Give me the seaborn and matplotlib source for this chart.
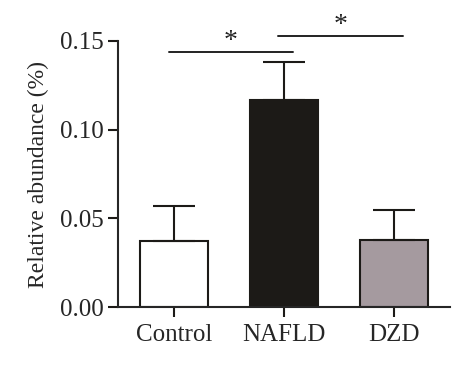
import matplotlib
matplotlib.use('agg')
import matplotlib.pyplot as plt
import seaborn as sns
import pandas as pd

groups = ['Control', 'NAFLD', 'DZD']
means = [0.037, 0.117, 0.038]
errs = [0.020, 0.021, 0.017]
colors = ['#ffffff', '#1c1a17', '#a59a9f']
yticks = [0.00, 0.05, 0.10, 0.15]

# significance brackets: (from group, to group, height)
sig = [(0, 1, 0.1438), (1, 2, 0.1528)]

sns.set_style('ticks')
plt.rcParams['font.family'] = ['Liberation Serif', 'DejaVu Serif']
plt.rcParams['axes.linewidth'] = 1.5

df = pd.DataFrame({'group': groups, 'value': means})

fig = plt.figure(figsize=(4.74, 3.66), dpi=100)
ax = fig.add_axes([0.249, 0.161, 0.700, 0.727])

sns.barplot(data=df, x='group', y='value', hue='group', palette=colors,
            width=0.62, edgecolor='#1c1a17', linewidth=1.5, saturation=1,
            legend=False, ax=ax, errorbar=None)

ax.errorbar(range(len(groups)), means, yerr=[[0] * len(errs), errs],
            fmt='none', ecolor='#1c1a17', elinewidth=1.5, capsize=15,
            capthick=1.5, zorder=1)

for a, b, h in sig:
    x0, x1 = a - 0.05, b + 0.08
    ax.plot([x0, x1], [h, h], color='#222222', lw=1.4, clip_on=False)
    ax.text((x0 + x1) / 2, h - 0.001, '*', ha='center', va='bottom',
            fontsize=20, color='#222222')

ax.set_xlim(-0.51, 2.51)
ax.set_ylim(0, 0.15)
ax.set_yticks(yticks)
ax.set_yticklabels(['%.2f' % t for t in yticks])
ax.set_xlabel('')
ax.set_ylabel('Relative abundance (%)', fontsize=17, labelpad=8)
ax.tick_params(axis='both', labelsize=18, width=1.5, length=7, color='#1c1a17')
ax.tick_params(axis='x', pad=5)
sns.despine(ax=ax)

plt.savefig('out.png', dpi=100)
